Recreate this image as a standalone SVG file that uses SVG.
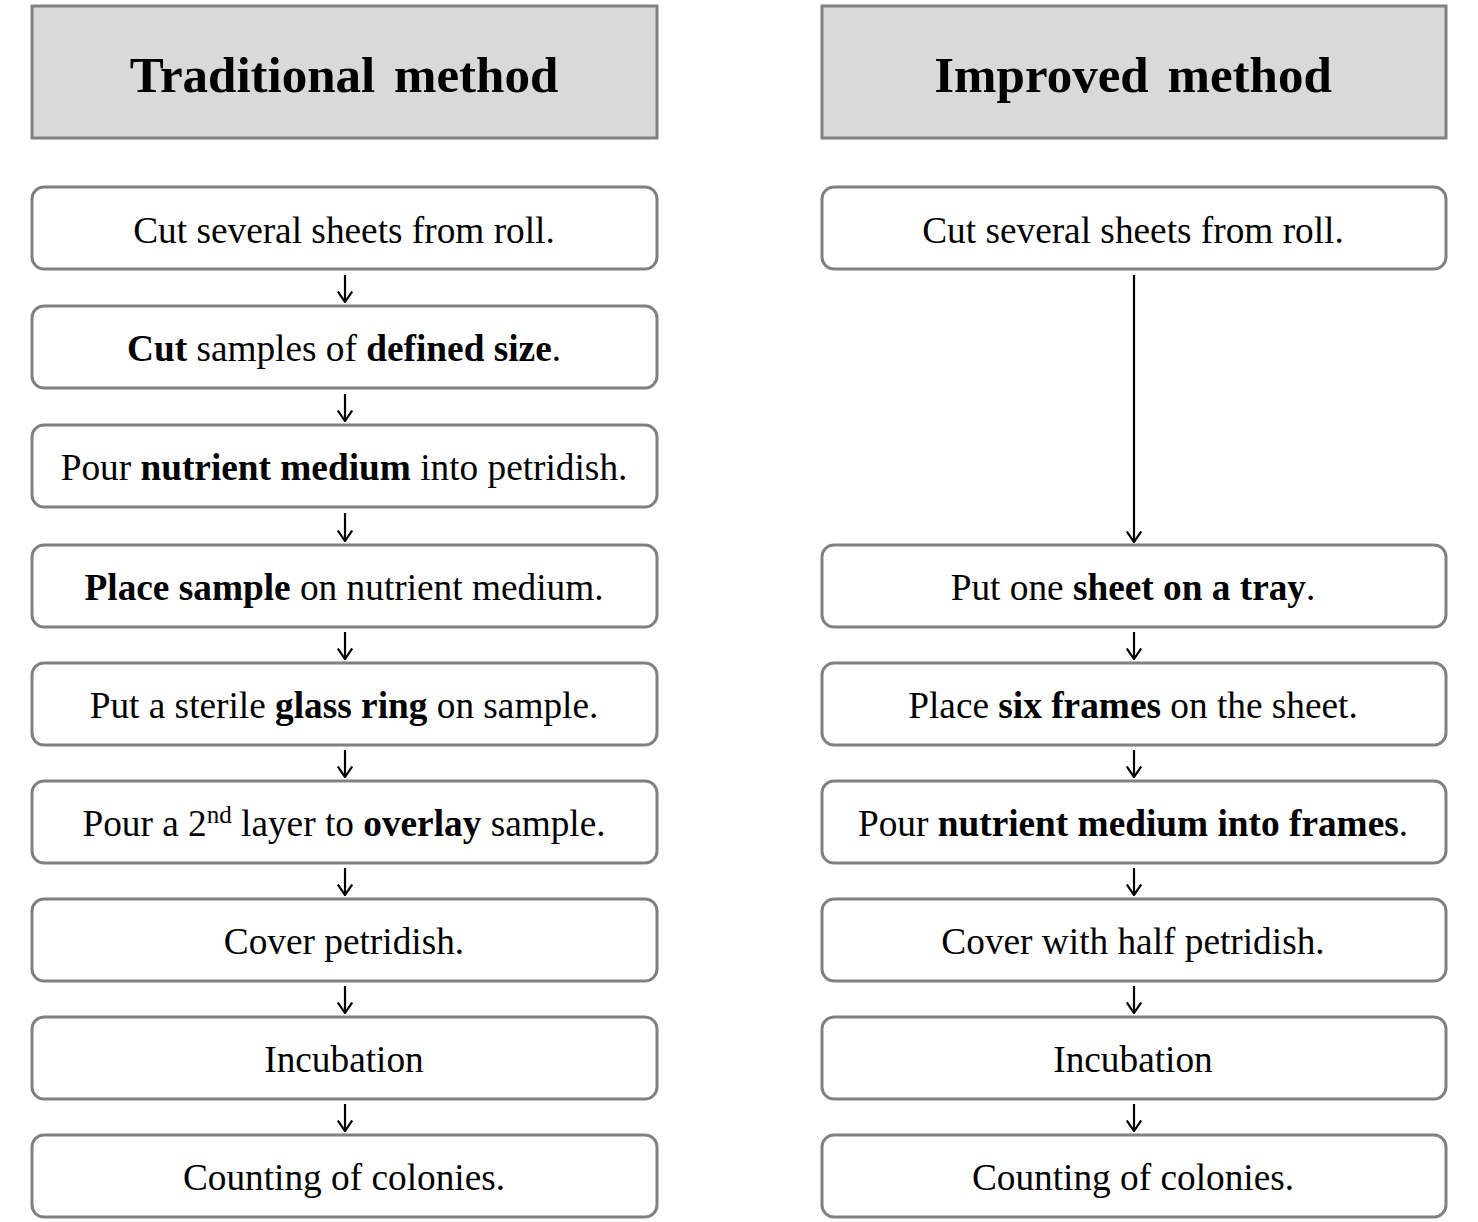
<svg xmlns="http://www.w3.org/2000/svg" width="1478" height="1222" viewBox="0 0 1478 1222">
<style>
.hdr{fill:#d9d9d9;stroke:#808080;stroke-width:3}
.box{fill:#fff;stroke:#808080;stroke-width:3}
.t{font-family:"Liberation Serif","Times New Roman",serif;font-size:37.3px;fill:#000;text-anchor:middle}
.h{font-family:"Liberation Serif","Times New Roman",serif;font-size:51px;font-weight:bold;fill:#000;text-anchor:middle;word-spacing:6px}
.b{font-weight:bold}
.c{stroke:#000;stroke-width:2.2;fill:none}
</style>
<defs>
<marker id="ah" viewBox="0 0 12 16" refX="11" refY="8" markerWidth="12" markerHeight="16" markerUnits="userSpaceOnUse" orient="auto">
<path d="M0.5,0.8 L11,8 L0.5,15.2" fill="none" stroke="#000" stroke-width="2.2"/>
</marker>
</defs>
<rect width="1478" height="1222" fill="#fff"/>
<g id="hdr-left"><rect class="hdr" x="32" y="6" width="625" height="132"/><text class="h" x="344" y="92">Traditional method</text></g>
<g id="hdr-right"><rect class="hdr" x="822" y="6" width="624" height="132"/><text class="h" x="1133" y="92">Improved method</text></g>

<g id="L1"><rect class="box" x="32" y="187" width="625" height="82" rx="12"/><text class="t" x="344" y="243">Cut several sheets from roll.</text></g>
<g id="L2"><rect class="box" x="32" y="306" width="625" height="82" rx="12"/><text class="t" x="344" y="361"><tspan class="b">Cut</tspan> samples of <tspan class="b">defined size</tspan>.</text></g>
<g id="L3"><rect class="box" x="32" y="425" width="625" height="82" rx="12"/><text class="t" x="344" y="480">Pour <tspan class="b">nutrient medium</tspan> into petridish.</text></g>
<g id="L4"><rect class="box" x="32" y="545" width="625" height="82" rx="12"/><text class="t" x="344" y="600"><tspan class="b">Place sample</tspan> on nutrient medium.</text></g>
<g id="L5"><rect class="box" x="32" y="663" width="625" height="82" rx="12"/><text class="t" x="344" y="718">Put a sterile <tspan class="b">glass ring</tspan> on sample.</text></g>
<g id="L6"><rect class="box" x="32" y="781" width="625" height="82" rx="12"/><text class="t" x="344" y="836">Pour a 2<tspan font-size="25" dy="-13">nd</tspan><tspan dy="13"> layer to </tspan><tspan class="b">overlay</tspan> sample.</text></g>
<g id="L7"><rect class="box" x="32" y="899" width="625" height="82" rx="12"/><text class="t" x="344" y="954">Cover petridish.</text></g>
<g id="L8"><rect class="box" x="32" y="1017" width="625" height="82" rx="12"/><text class="t" x="344" y="1072">Incubation</text></g>
<g id="L9"><rect class="box" x="32" y="1135" width="625" height="82" rx="12"/><text class="t" x="344" y="1190">Counting of colonies.</text></g>

<g id="R1"><rect class="box" x="822" y="187" width="624" height="82" rx="12"/><text class="t" x="1133" y="243">Cut several sheets from roll.</text></g>
<g id="R4"><rect class="box" x="822" y="545" width="624" height="82" rx="12"/><text class="t" x="1133" y="600">Put one <tspan class="b">sheet on a tray</tspan>.</text></g>
<g id="R5"><rect class="box" x="822" y="663" width="624" height="82" rx="12"/><text class="t" x="1133" y="718">Place <tspan class="b">six frames</tspan> on the sheet.</text></g>
<g id="R6"><rect class="box" x="822" y="781" width="624" height="82" rx="12"/><text class="t" x="1133" y="836">Pour <tspan class="b">nutrient medium into frames</tspan>.</text></g>
<g id="R7"><rect class="box" x="822" y="899" width="624" height="82" rx="12"/><text class="t" x="1133" y="954">Cover with half petridish.</text></g>
<g id="R8"><rect class="box" x="822" y="1017" width="624" height="82" rx="12"/><text class="t" x="1133" y="1072">Incubation</text></g>
<g id="R9"><rect class="box" x="822" y="1135" width="624" height="82" rx="12"/><text class="t" x="1133" y="1190">Counting of colonies.</text></g>

<g id="connectors">
<line class="c" x1="345" y1="275" x2="345" y2="302" marker-end="url(#ah)"/>
<line class="c" x1="345" y1="394" x2="345" y2="421" marker-end="url(#ah)"/>
<line class="c" x1="345" y1="513" x2="345" y2="541" marker-end="url(#ah)"/>
<line class="c" x1="345" y1="632" x2="345" y2="659" marker-end="url(#ah)"/>
<line class="c" x1="345" y1="750" x2="345" y2="777" marker-end="url(#ah)"/>
<line class="c" x1="345" y1="868" x2="345" y2="895" marker-end="url(#ah)"/>
<line class="c" x1="345" y1="986" x2="345" y2="1013" marker-end="url(#ah)"/>
<line class="c" x1="345" y1="1104" x2="345" y2="1131" marker-end="url(#ah)"/>
<line class="c" x1="1134" y1="275" x2="1134" y2="542" marker-end="url(#ah)"/>
<line class="c" x1="1134" y1="632" x2="1134" y2="659" marker-end="url(#ah)"/>
<line class="c" x1="1134" y1="750" x2="1134" y2="777" marker-end="url(#ah)"/>
<line class="c" x1="1134" y1="868" x2="1134" y2="895" marker-end="url(#ah)"/>
<line class="c" x1="1134" y1="986" x2="1134" y2="1013" marker-end="url(#ah)"/>
<line class="c" x1="1134" y1="1104" x2="1134" y2="1131" marker-end="url(#ah)"/>
</g>
</svg>
